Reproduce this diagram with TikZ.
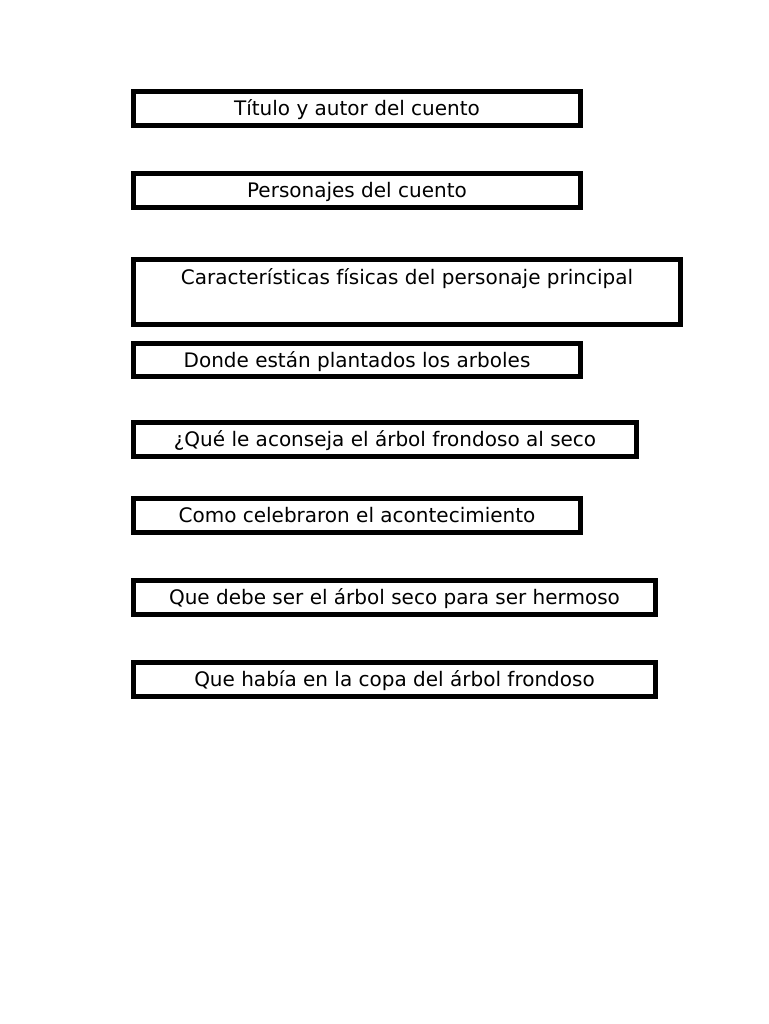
\documentclass[tikz,border=0pt]{standalone}
\usepackage{fontspec}
\setmainfont{DejaVu Sans}
\begin{document}
\begin{tikzpicture}[x=1pt,y=-1pt,
  caja/.style={draw=black,line width=5.5pt,inner sep=0pt,text height=14.6pt,text depth=0.6pt,
    font=\fontsize{20}{24}\selectfont}]
\path[use as bounding box] (0,0) rectangle (768,1024);
\fill[white] (0,0) rectangle (768,1024);
\node[caja,minimum width=447pt,minimum height=34pt] (titulo) at (357,108.5) {Título y autor del cuento};
\node[caja,minimum width=447pt,minimum height=34pt] (personajes) at (357,190.5) {Personajes del cuento};
\node[caja,minimum width=547pt,minimum height=65pt,text depth=29.4pt] (fisicas) at (407,292) {Características físicas del personaje principal};
\node[caja,minimum width=447pt,minimum height=33pt] (arboles) at (357,360) {Donde están plantados los arboles};
\node[caja,minimum width=503pt,minimum height=34pt] (consejo) at (385,439.5) {¿Qué le aconseja el árbol frondoso al seco};
\node[caja,minimum width=447pt,minimum height=34pt] (celebracion) at (357,515.5) {Como celebraron el acontecimiento};
\node[caja,minimum width=522pt,minimum height=34pt] (hermoso) at (394.5,597.5) {Que debe ser el árbol seco para ser hermoso};
\node[caja,minimum width=522pt,minimum height=34pt] (copa) at (394.5,679.5) {Que había en la copa del árbol frondoso};
\end{tikzpicture}
\end{document}
